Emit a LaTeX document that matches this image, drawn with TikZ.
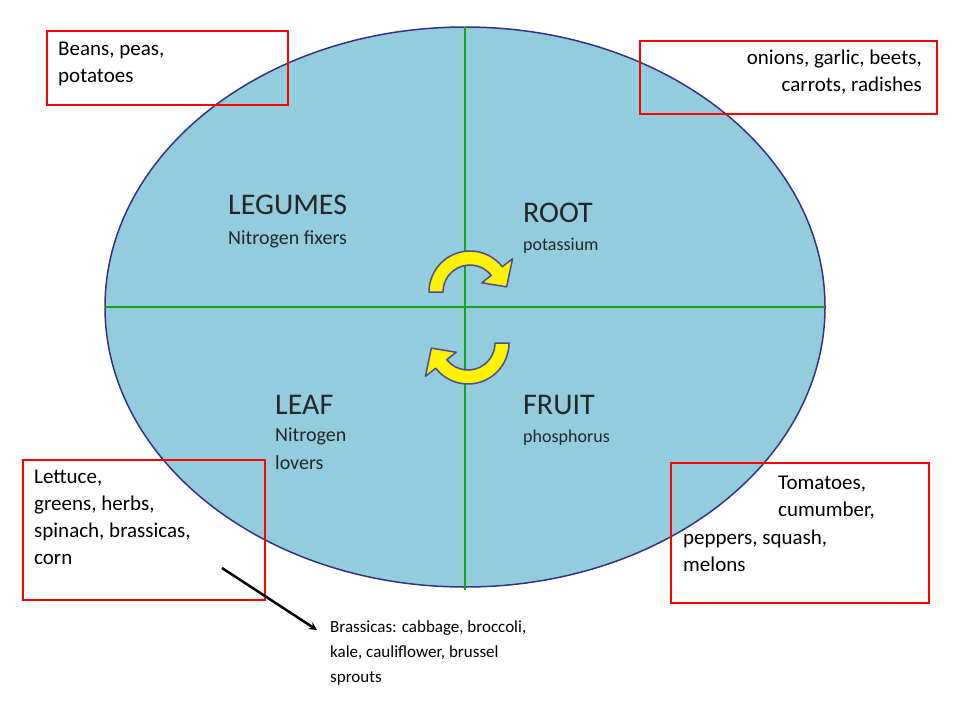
\documentclass[tikz,border=0pt]{standalone}
\usetikzlibrary{shapes.geometric}
\usepackage{fontspec}
\setmainfont{Carlito}
\begin{document}
\begin{tikzpicture}[x=1pt,y=-1pt,
  redbox/.style={draw=red,line width=2.5pt},
  txt/.style={anchor=north west,inner sep=0pt,align=left,font=\fontsize{21}{27}\selectfont},
  head/.style={anchor=west,inner sep=0pt,font=\fontsize{30}{34}\selectfont,text=black!85},
  sub/.style={anchor=north west,inner sep=0pt,align=left,font=\fontsize{20}{28}\selectfont,text=black!85},
  grn/.style={draw=green!60!black!90,line width=2.5pt},
  cyc/.style={fill=yellow,draw=blue!40!black!70,line width=1.5pt,line join=round}]
\useasboundingbox (0,0) rectangle (960,720);
\definecolor{sky}{RGB}{147,205,221}
\node[ellipse,draw=blue!40!black!80,line width=1.5pt,fill=sky,minimum width=720,minimum height=560] (ell) at (465,307) {};
\coordinate (vt) at (465,27); \coordinate (vb) at (465,590);
\coordinate (hl) at (105,307); \coordinate (hr) at (825,307);
\draw[grn] (vt) -- (vb);
\draw[grn] (hl) -- (hr);
% cycle arrows
\coordinate (c1) at (470,292);
\draw[cyc] ([shift={(180:27)}]c1) -- ([shift={(180:41)}]c1) arc[start angle=180,end angle=322,radius=41]
  -- ([shift={(322:54)}]c1) -- ([shift={(352:37)}]c1) -- ([shift={(322:15)}]c1) -- ([shift={(322:27)}]c1)
  arc[start angle=322,end angle=180,radius=27] -- cycle;
\coordinate (c2) at (468,343);
\draw[cyc] ([shift={(0:27)}]c2) -- ([shift={(0:41)}]c2) arc[start angle=0,end angle=142,radius=41]
  -- ([shift={(142:54)}]c2) -- ([shift={(172:37)}]c2) -- ([shift={(142:15)}]c2) -- ([shift={(142:27)}]c2)
  arc[start angle=142,end angle=0,radius=27] -- cycle;
% labels
\node[head] (leg) at (228,205) {LEGUMES};
\node[sub] (legs) at (228,230) {Nitrogen fixers};
\node[head] (root) at (523,213) {ROOT};
\node[sub,font=\fontsize{18}{24}\selectfont] (roots) at (523,238) {potassium};
\node[head] (leaf) at (275,405) {LEAF};
\node[sub] (leafs) at (275,428) {Nitrogen\\lovers};
\node[head] (fruit) at (523,405) {FRUIT};
\node[sub,font=\fontsize{18}{24}\selectfont] (fruits) at (523,430) {phosphorus};
% boxes
\node[redbox,minimum width=241,minimum height=74] (b1) at (167.5,68) {};
\node[txt] (t1) at (58,42) {Beans, peas,\\potatoes};
\node[redbox,minimum width=297,minimum height=73] (b2) at (788.5,77.5) {};
\node[txt,anchor=north east,align=right] (t2) at (922,50) {onions, garlic, beets,\\carrots, radishes};
\node[redbox,minimum width=242,minimum height=140] (b3) at (144,530) {};
\node[txt] (t3) at (34,470) {Lettuce,\\greens, herbs,\\spinach, brassicas,\\corn};
\node[redbox,minimum width=258,minimum height=140] (b4) at (800,533) {};
\node[txt] (t4a) at (778,476) {Tomatoes,\\cumumber,};
\node[txt] (t4b) at (683,530) {peppers, squash,\\melons};
% brassicas
\coordinate (as) at (222,568);
\coordinate (ae) at (317,630);
\node[txt,font=\fontsize{17}{25}\selectfont] (bt) at (330,620) {Brassicas: cabbage, broccoli,\\kale, cauliflower, brussel\\sprouts};
\draw[-stealth,line width=2.5pt] (as) -- (ae);
\end{tikzpicture}
\end{document}
